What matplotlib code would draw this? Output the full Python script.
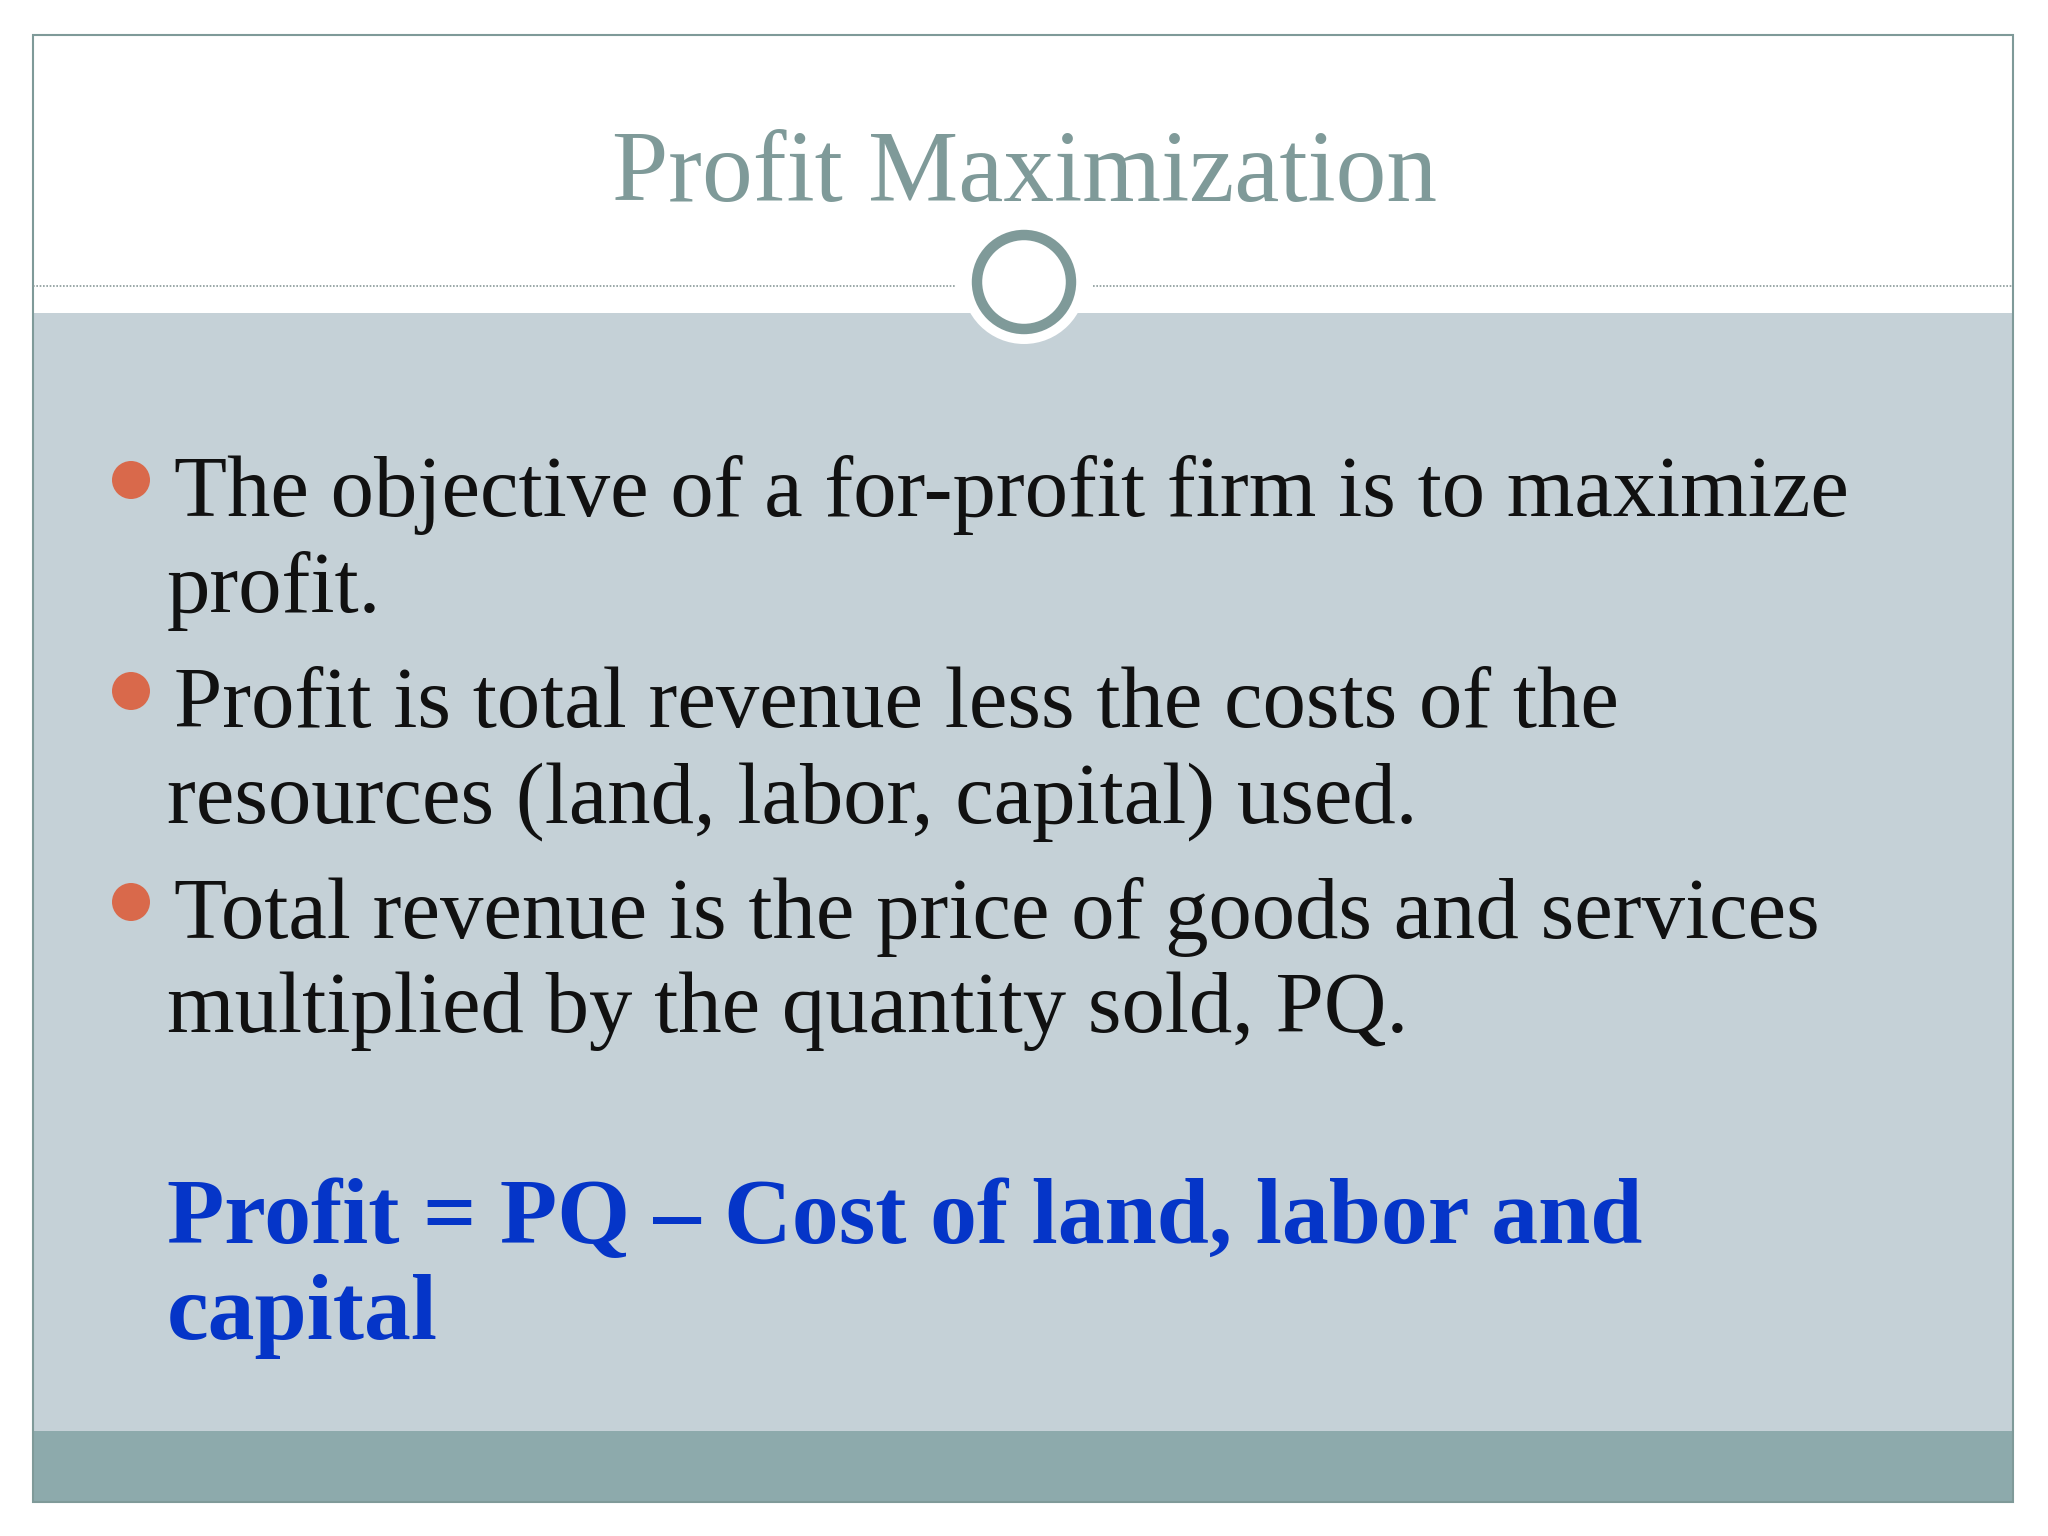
import matplotlib
matplotlib.use('Agg')
import matplotlib.pyplot as plt
from matplotlib.patches import Rectangle, Circle


# 슬라이드 내용
title = 'Profit Maximization'
bullets = [
    ['The objective of a for-profit firm is to maximize', 'profit.'],
    ['Profit is total revenue less the costs of the', 'resources (land, labor, capital) used.'],
    ['Total revenue is the price of goods and services', 'multiplied by the quantity sold, PQ.'],
]
formula = ['Profit = PQ \u2013 Cost of land, labor and', 'capital']

# 색상
teal = '#7F9A99'
body_bg = '#C5D1D7'
footer_bg = '#8DAAAC'
bullet_color = '#D9694B'
blue = '#0535C8'

plt.rcParams['font.family'] = ['Liberation Serif', 'DejaVu Serif']

fig = plt.figure(figsize=(20.48, 15.36), dpi=100)
ax = fig.add_axes([0, 0, 1, 1])
ax.set_xlim(0, 2048)
ax.set_ylim(1536, 0)
ax.axis('off')

# 슬라이드 배경
left, right, top, bottom = 33, 2013, 35, 1502
ax.add_patch(Rectangle((left, top), right - left, 313 - top, facecolor='white', edgecolor='none'))
ax.add_patch(Rectangle((left, 313), right - left, 1431 - 313, facecolor=body_bg, edgecolor='none'))
ax.add_patch(Rectangle((left, 1431), right - left, bottom - 1431, facecolor=footer_bg, edgecolor='none'))
ax.add_patch(Rectangle((left, top), right - left, bottom - top, facecolor='none', edgecolor=teal, linewidth=1.5))

# 점선
ax.plot([left, 955], [286, 286], linestyle=(0, (1, 1)), color='#8A9A9A', linewidth=1.2)
ax.plot([1093, right], [286, 286], linestyle=(0, (1, 1)), color='#8A9A9A', linewidth=1.2)

# 원 장식
ax.add_patch(Circle((1024, 282), 62, facecolor='white', edgecolor='none'))
ax.add_patch(Circle((1024, 282), 47, facecolor='white', edgecolor=teal, linewidth=7.5))

# 제목
ax.text(1024, 201, title, ha='center', va='baseline', fontsize=73, color=teal)

# 글머리 기호 목록
baselines = [(516, 612), (727, 823), (938, 1032)]
for lines, (y1, y2) in zip(bullets, baselines):
    ax.add_patch(Circle((131, y1 - 36), 19, facecolor=bullet_color, edgecolor='none'))
    ax.text(174, y1, lines[0], ha='left', va='baseline', fontsize=62.5, color='#111111')
    ax.text(167, y2, lines[1], ha='left', va='baseline', fontsize=62.5, color='#111111')

# 공식
ax.text(167, 1243, formula[0], ha='left', va='baseline', fontsize=67.5, color=blue, fontweight='bold')
ax.text(167, 1339, formula[1], ha='left', va='baseline', fontsize=67.5, color=blue, fontweight='bold')

fig.savefig('out.png', dpi=100, facecolor='white')
